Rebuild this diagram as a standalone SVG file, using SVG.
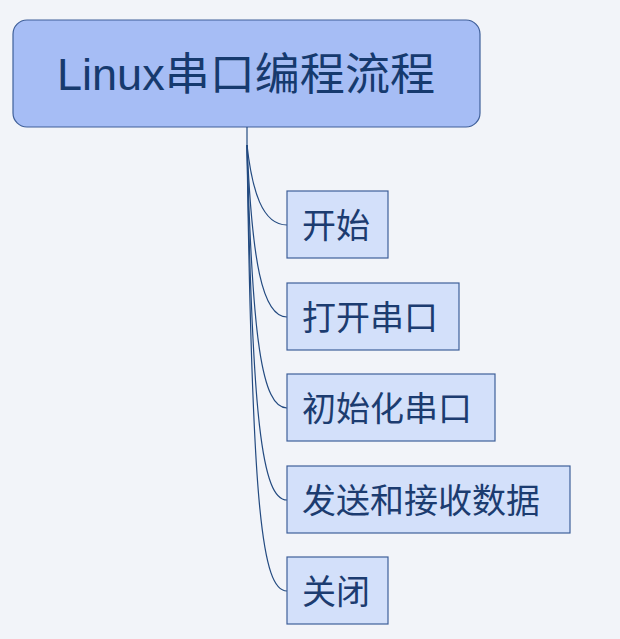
<svg xmlns="http://www.w3.org/2000/svg" width="620" height="639" viewBox="0 0 620 639">
<style>
.n{fill:#d3e0fa;stroke:#3f5f99;stroke-width:1.2}
.t{font-family:"Noto Sans CJK SC","Liberation Sans",sans-serif;font-size:34px;fill:#1c3c70}
.c{fill:none;stroke:#234a80;stroke-width:1.2}
</style>
<rect width="620" height="639" fill="#f2f4f9"/>
<g id="root"><rect x="13" y="20" width="467" height="107" rx="14" fill="#a6bdf5" stroke="#3f5f99" stroke-width="1.2"/>
<text x="246" y="90" text-anchor="middle" font-family="'Liberation Sans','Noto Sans CJK SC',sans-serif" font-size="44" textLength="378" lengthAdjust="spacingAndGlyphs" fill="#163a6e">Linux串口编程流程</text></g>
<g id="connectors">
<path class="c" d="M247,127 V145"/>
<path class="c" d="M247,145 C252,190 262,225 287,225"/>
<path class="c" d="M247,145 C252,260 262,317 287,317"/>
<path class="c" d="M247,145 C252,340 262,408 287,408"/>
<path class="c" d="M247,145 C252,420 262,500 287,500"/>
<path class="c" d="M247,145 C252,510 262,591 287,591"/>
</g>
<g id="n1"><rect class="n" x="287" y="191" width="101" height="67"/><text class="t" x="302" y="238">开始</text></g>
<g id="n2"><rect class="n" x="287" y="283" width="172" height="67"/><text class="t" x="302" y="330">打开串口</text></g>
<g id="n3"><rect class="n" x="287" y="374" width="208" height="67"/><text class="t" x="302" y="421">初始化串口</text></g>
<g id="n4"><rect class="n" x="287" y="466" width="283" height="67"/><text class="t" x="302" y="513">发送和接收数据</text></g>
<g id="n5"><rect class="n" x="287" y="557" width="101" height="67"/><text class="t" x="302" y="604">关闭</text></g>
</svg>
